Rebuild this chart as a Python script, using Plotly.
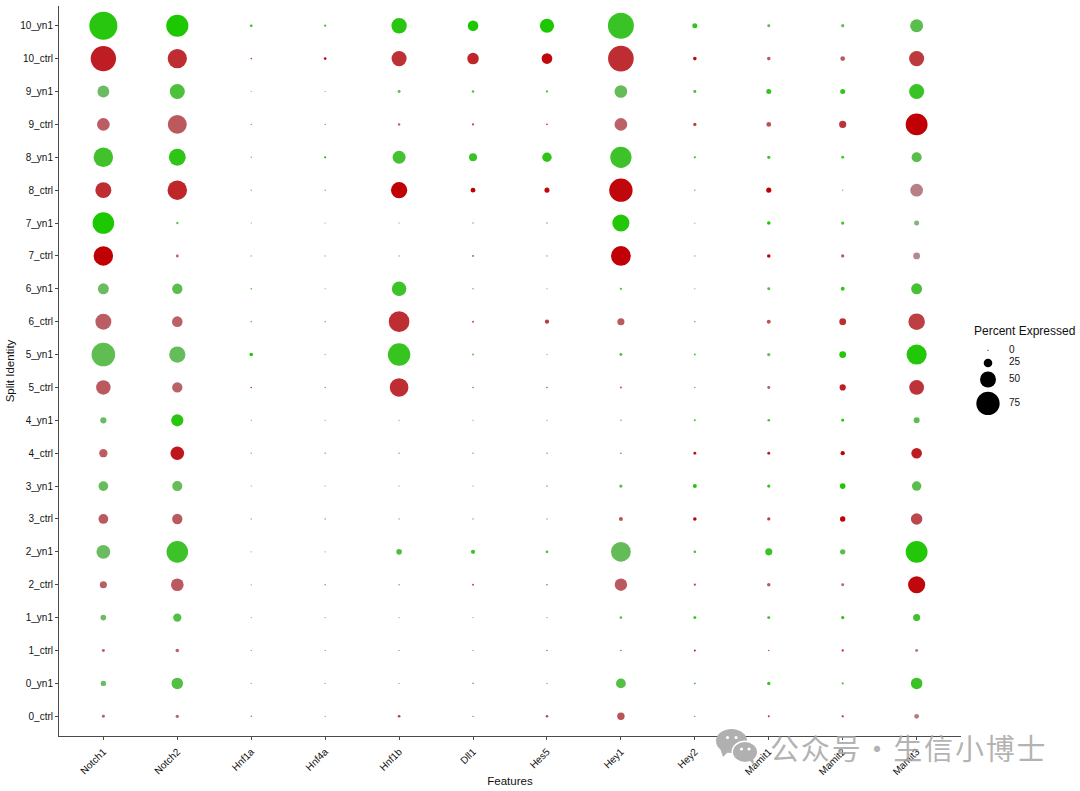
import plotly.graph_objects as go

FEATURES = ["Notch1","Notch2","Hnf1a","Hnf4a","Hnf1b","Dll1","Hes5","Hey1","Hey2","Mamit1","Mamit2","Mamit3"]
IDENTITIES = ["10_yn1","10_ctrl","9_yn1","9_ctrl","8_yn1","8_ctrl","7_yn1","7_ctrl","6_yn1","6_ctrl","5_yn1","5_ctrl",
              "4_yn1","4_ctrl","3_yn1","3_ctrl","2_yn1","2_ctrl","1_yn1","1_ctrl","0_yn1","0_ctrl"]

# percent expressed, identities top to bottom
pct_notch1 = [91,82,36,39,62,50,69,62,33,50,76,45,17,24,29,29,43,20,15,6,14,6]
pct_notch2 = [71,61,47,60,53,62,4,6,31,32,51,31,37,42,30,31,69,39,24,8,35,7]
pct_hnf1a = [5,1.3,0,0,0.4,0,0,0,1.3,0.3,8,1.3,0,0,0,0,0,0,0,0,0,0.4]
pct_hnf4a = [3.6,4.7,0,0,3.6,0,0,0,0,0,0.3,0,0,0.3,0,0.3,0.3,0.3,0,0,0,0]
pct_hnf1b = [48,47,6,4,40,51,0,0,45,66,72,59,0.3,0.3,0,0,15,0.3,0,0,0,5]
pct_dll1 = [32,35,5,3.6,23,12,1.3,2.4,1.3,2.4,2.4,1.3,0.3,0.3,0.3,0.3,10.5,2.4,0.3,0,1.3,0.3]
pct_hes5 = [44,32,3.6,1.3,28,13,1.3,0.2,0.2,10.5,0.2,1.3,0,0.2,1.3,0.2,4.7,1.3,0.2,0.2,0.2,4.7]
pct_hey1 = [84,83,39,39,68,75,54,63,3.6,20,6,2.4,1.3,1.3,7,9.3,63,38,4.7,1.3,29,21]
pct_hey2 = [13,8,6,7,3.6,0.2,0.2,0.2,0.2,0.2,2.4,0,2.4,6,9.3,8,4.7,3.6,6,2.4,2.4,0.2]
pct_mamit1 = [6,8,13,12,7,13,8,8,6,9.3,7,6,4.7,6,7,7,20,8,6,1.3,7,2.4]
pct_mamit2 = [7,12,13,20,6,0,7,7,9.3,19,19,17,6,10.5,15,14,14,6,7,3.6,3.6,3.6]
pct_mamit3 = [40,47,47,70,30,39,13,19,33,52,64,46,16,32,28,35,70,54,20,6,35,12]

# scaled average expression (0 = pale, 1 = full colour), identities top to bottom
lvl_notch1 = [.9,.8,.35,.37,.7,.7,1,1,.35,.37,.45,.4,.35,.37,.4,.4,.35,.37,.35,.37,.35,.37]
lvl_notch2 = [1,.7,.6,.4,.85,.75,.35,.3,.5,.35,.4,.35,.9,.85,.4,.4,.72,.4,.55,.35,.55,.35]
lvl_hnf1a = [.8,.7,.35,.35,.7,.3,.3,.3,.8,.5,1,.7,.5,.4,.4,.3,.3,.3,.3,.4,.4,.6]
lvl_hnf4a = [.7,1,.5,.4,1,.4,.3,.3,.5,.5,.6,.5,.5,.5,.5,.4,.6,.5,.5,.5,.5,.5]
lvl_hnf1b = [.9,.68,.5,.4,.65,1,.4,.3,.72,.7,.78,.7,.5,.4,.4,.3,.6,.4,.4,.4,.4,.6]
lvl_dll1 = [1,.75,.5,.45,.75,1,.45,.5,.5,.5,.5,.5,.5,.5,.4,.4,.7,.55,.4,.4,.6,.6]
lvl_hes5 = [1,.95,.5,.7,.85,.95,.5,.4,.5,.6,.7,.6,.7,.6,.6,.4,.7,.5,.5,.6,.6,.5]
lvl_hey1 = [.75,.7,.4,.35,.72,.95,.95,1,.5,.4,.5,.45,.6,.5,.5,.45,.42,.4,.5,.5,.55,.45]
lvl_hey2 = [.8,.95,.7,.6,.7,.4,.5,.4,.6,.6,.6,.5,.7,.85,1,1,.6,.5,.95,.85,.6,.6]
lvl_mamit1 = [.5,.4,.8,.45,.75,1,1,1,.6,.45,.4,.4,.65,.8,.8,.6,.75,.4,.8,.5,.85,.7]
lvl_mamit2 = [.4,.4,.8,.65,.6,.3,.7,.4,.8,.7,.95,.8,.9,1,1,1,.5,.3,.9,.7,.45,.7]
lvl_mamit3 = [.5,.62,.75,1,.5,.15,.2,.1,.65,.58,.95,.65,.5,.8,.5,.52,.95,.95,.7,.2,.75,.2]

PCT = [pct_notch1,pct_notch2,pct_hnf1a,pct_hnf4a,pct_hnf1b,pct_dll1,pct_hes5,pct_hey1,pct_hey2,pct_mamit1,pct_mamit2,pct_mamit3]
LVL = [lvl_notch1,lvl_notch2,lvl_hnf1a,lvl_hnf4a,lvl_hnf1b,lvl_dll1,lvl_hes5,lvl_hey1,lvl_hey2,lvl_mamit1,lvl_mamit2,lvl_mamit3]

LEGEND_PCT = [0, 25, 50, 75]

W, H = 1080, 791
L, R, T, B = 59, 961, 6, 736
LINE = "#4a4a4a"
TXT = "#111111"
FONT = "Liberation Sans"

RED_LOW, RED_HIGH = (182, 150, 155), (192, 0, 5)
GREEN_LOW, GREEN_HIGH = (150, 180, 150), (28, 200, 0)


def diameter(p):
    return 1.2 + 0.295 * p


def mix(low, high, t):
    return "rgb(%d,%d,%d)" % tuple(round(a + (b - a) * t) for a, b in zip(low, high))


fig = go.Figure()
for f, feat in enumerate(FEATURES):
    colors = []
    for i, ident in enumerate(IDENTITIES):
        low, high = (RED_LOW, RED_HIGH) if ident.endswith("ctrl") else (GREEN_LOW, GREEN_HIGH)
        colors.append(mix(low, high, LVL[f][i]))
    fig.add_trace(go.Scatter(
        x=[feat] * len(IDENTITIES), y=IDENTITIES, mode="markers", name=feat, showlegend=False,
        marker=dict(size=[diameter(p) for p in PCT[f]], color=colors, opacity=1, line=dict(width=0)),
    ))

# size key: rows stack the way a ggplot key does, each as tall as its dot plus padding
heights = [max(12.5, diameter(p) + 4.3) for p in LEGEND_PCT]
key_y, cur = [], 344
for h in heights:
    key_y.append(cur + h / 2)
    cur += h
fig.add_trace(go.Scatter(
    x=[988] * 4, y=key_y, mode="markers", xaxis="x2", yaxis="y2", showlegend=False,
    marker=dict(size=[diameter(p) for p in LEGEND_PCT], color="black", opacity=1, line=dict(width=0)),
))
fig.add_trace(go.Scatter(
    x=[1009] * 4, y=key_y, mode="text", xaxis="x2", yaxis="y2", showlegend=False,
    text=[str(p) for p in LEGEND_PCT], textposition="middle right",
    textfont=dict(family=FONT, size=10, color=TXT),
))

axis_common = dict(showgrid=False, zeroline=False, showline=True, linecolor=LINE, linewidth=1,
                   ticks="outside", ticklen=3, tickwidth=1, tickcolor=LINE, automargin=False,
                   tickfont=dict(family=FONT, size=10, color=TXT), type="category")

fig.update_layout(
    width=W, height=H, paper_bgcolor="white", plot_bgcolor="white", showlegend=False,
    margin=dict(l=L, r=0, t=T, b=H - B, pad=0),
    font=dict(family=FONT, size=10, color=TXT),
    xaxis=dict(axis_common, domain=[0, (R - L) / (W - L)], categoryorder="array", categoryarray=FEATURES,
               range=[-0.6, 11.6], tickangle=-45, ticklabelstandoff=2,
               title=dict(text="Features", font=dict(family=FONT, size=11.5, color=TXT), standoff=0)),
    yaxis=dict(axis_common, categoryorder="array", categoryarray=IDENTITIES[::-1], range=[-0.6, 21.6],
               title=dict(text="Split Identity", font=dict(family=FONT, size=11.5, color=TXT), standoff=3)),
    xaxis2=dict(domain=[(R - L) / (W - L), 1], range=[R, W], anchor="y2", visible=False, fixedrange=True),
    yaxis2=dict(domain=[0, 1], range=[B, T], anchor="x2", visible=False, fixedrange=True),
    annotations=[
        dict(xref="paper", yref="paper", x=(971.5 - L) / (W - L), y=(B - 331) / (B - T), text="Percent Expressed",
             showarrow=False, xanchor="left", yanchor="middle", font=dict(family=FONT, size=12, color=TXT)),
        dict(xref="paper", yref="paper", x=(768 - L) / (W - L), y=(B - 747) / (B - T),
             text="公\u200a众\u200a号\u200a·\u200a生\u200a信\u200a小\u200a博\u200a士",
             showarrow=False, xanchor="left", yanchor="middle",
             font=dict(family="Noto Sans CJK SC", size=29, color="rgba(165,165,165,0.85)")),
    ],
)

# watermark icon
def px_x(v): return (v - L) / (W - L)
def px_y(v): return (B - v) / (B - T)
GREY = "rgb(176,176,176)"
shapes = []
def circle(x0, y0, x1, y1, fill):
    shapes.append(dict(type="circle", xref="paper", yref="paper", x0=px_x(x0), x1=px_x(x1), y0=px_y(y1), y1=px_y(y0),
                       fillcolor=fill, line=dict(width=0), layer="above"))
circle(716, 729, 747, 753, GREY)
shapes.append(dict(type="path", xref="paper", yref="paper", layer="above", fillcolor=GREY, line=dict(width=0),
                   path="M %f %f L %f %f L %f %f Z" % (px_x(720), px_y(748), px_x(723), px_y(757), px_x(729), px_y(751))))
circle(731.5, 740.5, 758.5, 763.5, "white")
circle(733, 742, 757, 762, GREY)
shapes.append(dict(type="path", xref="paper", yref="paper", layer="above", fillcolor=GREY, line=dict(width=0),
                   path="M %f %f L %f %f L %f %f Z" % (px_x(748), px_y(759), px_x(754), px_y(765), px_x(753), px_y(756))))
for cx, cy, c in [(727.5, 737.5, "white"), (736, 737.5, "white"), (741.5, 749, "white"), (749, 749, "white")]:
    circle(cx - 1.6, cy - 1.6, cx + 1.6, cy + 1.6, c)
fig.update_layout(shapes=shapes)

fig.write_html("out.html", config=dict(displayModeBar=False),
               post_script="document.body.style.margin='0';document.documentElement.style.overflow='hidden';")
